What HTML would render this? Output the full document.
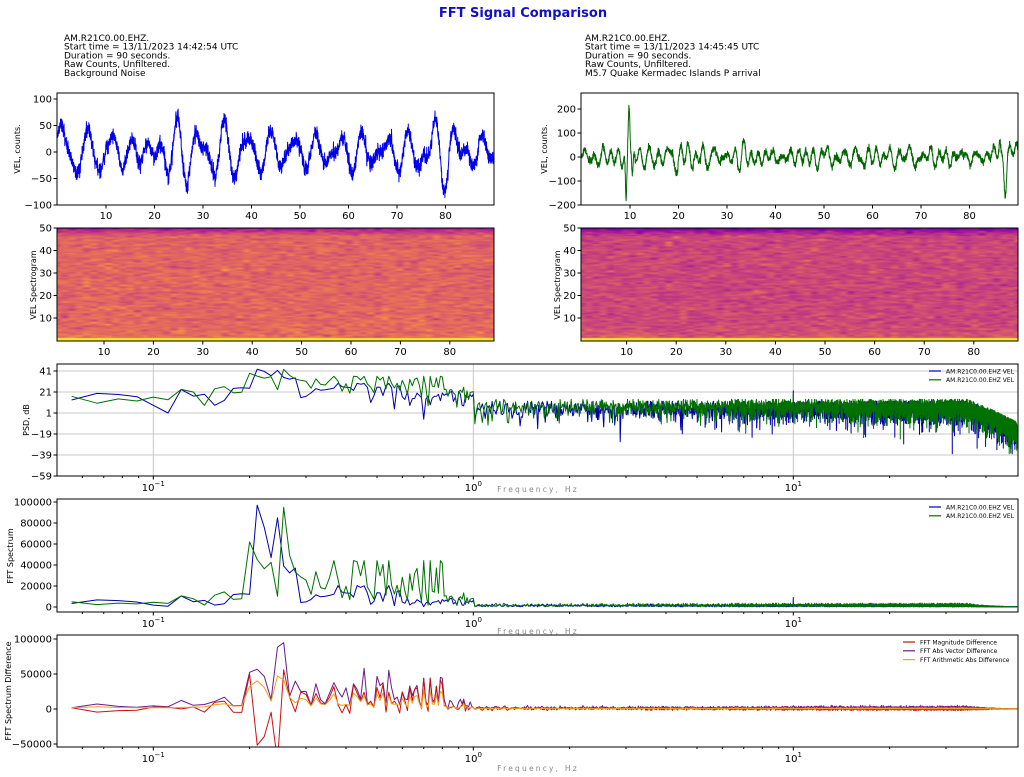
<!DOCTYPE html>
<html><head><meta charset="utf-8"><style>
html,body{margin:0;padding:0;background:#fff;}
#wrap{position:relative;width:1024px;height:777px;overflow:hidden;font-family:"DejaVu Sans","Liberation Sans",sans-serif;}
#s{position:absolute;left:0;top:0;}
canvas{position:absolute;}
</style></head><body><div id="wrap">
<canvas id="c1" width="437" height="113" style="left:57px;top:228px;width:437px;height:113px"></canvas>
<canvas id="c2" width="437" height="113" style="left:581px;top:228px;width:437px;height:113px"></canvas>
<svg id="s" xmlns="http://www.w3.org/2000/svg" width="1024" height="777" viewBox="0 0 1024 777"></svg>
</div>
<script>
var NS='http://www.w3.org/2000/svg';
var SEED=12345;function rnd(){SEED=(SEED*16807)%2147483647;return (SEED-1)/2147483646;}
function gauss(){var u=rnd();if(u<1e-9)u=1e-9;return Math.sqrt(-2*Math.log(u))*Math.cos(2*Math.PI*rnd());}
var SV=document.getElementById('s');
function el(tag,a,content,parent){var e=document.createElementNS(NS,tag);for(var k in a)e.setAttribute(k,String(a[k]));if(content!==null&&content!==undefined)e.textContent=String(content);(parent||SV).appendChild(e);return e;}
var clipN=0;
function mkclip(x,y,w,h){var id='cp'+(clipN++);var c=el('clipPath',{id:id});el('rect',{x:x,y:y,width:w,height:h},null,c);return id;}
function pth(pts,color,w,cid){var d='';for(var i=0;i<pts.length;i++){var p=pts[i];if(!isFinite(p[0])||!isFinite(p[1]))continue;d+=(d?'L':'M')+p[0].toFixed(1)+' '+p[1].toFixed(1);}var a={d:d,stroke:color,'stroke-width':w||1,fill:'none','stroke-linejoin':'round'};if(cid)a['clip-path']='url(#'+cid+')';el('path',a);}
function tx(x,y,s,o){o=o||{};var a={x:x,y:y,'font-size':o.fs||10,fill:o.fill||'#000','text-anchor':o.anchor||'middle'};if(o.rot)a.transform='rotate(-90 '+x+' '+y+')';if(o.weight)a['font-weight']=o.weight;if(o.ls)a['letter-spacing']=o.ls;return el('text',a,s);}
function box(x0,y0,x1,y1){el('rect',{x:x0,y:y0,width:x1-x0,height:y1-y0,fill:'none',stroke:'#000','stroke-width':1});}
function yticks(x0,list){for(var i=0;i<list.length;i++){var y=list[i][0];el('line',{x1:x0-3.5,y1:y,x2:x0,y2:y,stroke:'#000'});tx(x0-5,y+3.5,list[i][1],{anchor:'end'});}}
function xticks(y1,list){for(var i=0;i<list.length;i++){var x=list[i][0];el('line',{x1:x,y1:y1,x2:x,y2:y1+3.5,stroke:'#000'});tx(x,y1+14,list[i][1]);}}
var TK=[10,20,30,40,50,60,70,80];
function mapT(o,s){return TK.map(function(v){return [o+v*s,v];});}
try{
tx(523,17,'FFT Signal Comparison',{fs:13,weight:'bold',fill:'#1010c8'});
var info1=['AM.R21C0.00.EHZ.','Start time =  13/11/2023 14:42:54 UTC','Duration = 90 seconds.','Raw Counts, Unfiltered.','Background Noise'];
var info2=['AM.R21C0.00.EHZ.','Start time =  13/11/2023 14:45:45 UTC','Duration = 90 seconds.','Raw Counts, Unfiltered.','M5.7 Quake Kermadec Islands P arrival'];
for(var i=0;i<5;i++){tx(64,41+i*8.7,info1[i],{anchor:'start',fs:9});tx(585,41+i*8.7,info2[i],{anchor:'start',fs:9});}
}catch(e){}
function g2(t,c,w){return Math.exp(-Math.pow((t-c)/w,2));}
function wave(right){var pts=[],comps=[],n=right?14:9,k;
 for(k=0;k<n;k++)comps.push([right?0.15+rnd()*0.6:0.17+rnd()*0.16,(right?5+rnd()*8:6+rnd()*9),rnd()*6.283]);
 var hf=0;
 for(var j=0;j<=3600;j++){var t=j*0.025,v=0;for(k=0;k<n;k++)v+=comps[k][1]*Math.sin(6.283*comps[k][0]*t+comps[k][2]);
  if(!right){v*=1+1.5*g2(t,79,5)+0.4*g2(t,22,8);}
  hf=0.6*hf+gauss()*4;v+=hf+gauss()*(right?5:5);
  if(right){v+=230*g2(t,9.8,0.25)-190*g2(t,9.2,0.2)-110*g2(t,10.5,0.2)+90*g2(t,86.2,0.4)-150*g2(t,87.4,0.35)+90*g2(t,89.8,0.5);}
  pts.push([t,v]);}
 return pts;}
try{
var w1=wave(false);var cw1=mkclip(57,93,437,112);
pth(w1.map(function(p){return [57.5+p[0]*4.85,152-p[1]*0.53];}),'#0000ee',1,cw1);
box(57,93,494,205);yticks(57,[[99,'100'],[125.5,'50'],[152,'0'],[178.5,'−50'],[205,'−100']]);
xticks(205,mapT(57.5,4.85));
tx(20,149,'VEL, counts.',{rot:1,fs:8});
var w2=wave(true);var cw2=mkclip(581,93,437,112);
pth(w2.map(function(p){return [581.5+p[0]*4.85,157-p[1]*0.24];}),'#006400',1,cw2);
box(581,93,1018,205);yticks(581,[[109,'200'],[133,'100'],[157,'0'],[181,'−100'],[205,'−200']]);
xticks(205,mapT(581.5,4.85));
tx(547,149,'VEL, counts.',{rot:1,fs:8});
}catch(e){}
var ST=[[13,8,135],[84,2,163],[139,10,165],[185,50,137],[219,92,104],[244,136,73],[254,188,43],[240,249,33]];
function plasma(v){if(!isFinite(v))v=0.5;v=Math.max(0,Math.min(1,v))*7;var i=Math.min(6,Math.floor(v)),f=v-i;var a=ST[i],b=ST[i+1];return [a[0]+(b[0]-a[0])*f,a[1]+(b[1]-a[1])*f,a[2]+(b[2]-a[2])*f];}
function spec(id,right){var c=document.getElementById(id);var ctx=c.getContext('2d');var W=437,H=113;var img=ctx.createImageData(W,H);
 var cols=60,g=[],r,k;for(r=0;r<H;r++){g.push([]);for(k=0;k<=cols+1;k++)g[r].push(gauss());}
 for(var y=0;y<H;y++){var fr=(H-y)/H;for(var x=0;x<W;x++){var kk=x/W*cols,i=Math.floor(kk),f=kk-i;f=f*f*(3-2*f);var n=g[y][i]*(1-f)+g[y][i+1]*f;
  if(y>0){var n2=g[y-1][i]*(1-f)+g[y-1][i+1]*f;n=0.65*n+0.35*n2;}
  var base=right?0.5:0.6;if(fr>0.93)base-=(fr-0.93)*3.5;
  if(right){base+=0.12*Math.exp(-fr*18);var t=x/W*90;base+=0.2*g2(t,10,3)*Math.exp(-fr*25);}
  else base+=0.05*Math.exp(-fr*10);
  var v=base+n*0.06;if(y>=H-3)v=0.97;var col=plasma(v);var p=(y*W+x)*4;img.data[p]=col[0];img.data[p+1]=col[1];img.data[p+2]=col[2];img.data[p+3]=255;}}
 ctx.putImageData(img,0,0);}
try{spec('c1',false);}catch(e){}
try{spec('c2',true);}catch(e){}
try{
box(57,228,494,341);box(581,228,1018,341);
yticks(57,[[228,'50'],[250.5,'40'],[273,'30'],[295.5,'20'],[318,'10']]);
yticks(581,[[228,'50'],[250.5,'40'],[273,'30'],[295.5,'20'],[318,'10']]);
xticks(341,mapT(54.6,4.94));xticks(341,mapT(577,4.96));
tx(36,285,'VEL Spectrogram',{rot:1,fs:8});tx(560,285,'VEL Spectrogram',{rot:1,fs:8});
}catch(e){}
function fx(f){return 57+(Math.log(f)/Math.LN10+1.301)*320;}
var freqs=[];for(var k=5;k*0.011111<=50.01;k++)freqs.push(k*0.011111);
function envB(f){if(f<0.12)return 4000;if(f<0.2)return 15000;if(f<0.28)return 50000;if(f<0.6)return 12000;if(f<1)return 5000;return 1300*(f>35?Math.exp(-(f-35)/6):1);}
function envG(f){if(f<0.12)return 4000;if(f<0.2)return 10000;if(f<0.28)return 35000;if(f<0.8)return 26000;if(f<1)return 9000;return 1600*(f>35?Math.exp(-(f-35)/6):1);}
function ray(f){var a=gauss(),b=gauss();var r=Math.sqrt(a*a+b*b)/1.25;return f<1?Math.min(1.7,r):Math.min(2.2,r);}
var B=[],G=[];
for(var i=0;i<freqs.length;i++){var f=freqs[i];B.push(envB(f)*ray(f));G.push(envG(f)*ray(f));
 if(Math.abs(f-0.211)<0.006)B[i]=97000;if(Math.abs(f-0.255)<0.006)G[i]=95000;if(Math.abs(f-0.2)<0.006)G[i]=62000;if(Math.abs(f-10)<0.006){B[i]=9000;G[i]=7000;}}
function logx(y1){var labs=['−1','0','1'],fs=[0.1,1,10];for(var i=0;i<3;i++){var x=fx(fs[i]);el('line',{x1:x,y1:y1,x2:x,y2:y1+3.5,stroke:'#000'});var t=tx(x,y1+15,'10');el('tspan',{dy:-5,'font-size':7},labs[i],t);}
 for(var d=-2;d<=1;d++)for(var m=2;m<=9;m++){var f=m*Math.pow(10,d);if(f>0.05&&f<50)el('line',{x1:fx(f),y1:y1,x2:fx(f),y2:y1+2,stroke:'#000'});}}
function legend(x,y,items){for(var i=0;i<items.length;i++){el('line',{x1:x,y1:y+i*8.8,x2:x+12,y2:y+i*8.8,stroke:items[i][0],'stroke-width':1.2});tx(x+17,y+i*8.8+2.3,items[i][1],{anchor:'start',fs:6});}}
function series(arr,fy){return freqs.map(function(f,i){return [fx(f),fy(arr[i])];});}
try{
var cp=mkclip(57,364,961,112);
function psdY(v){return 413-(v-1)*1.05;}
[371,392,413,434,455].forEach(function(y){el('line',{x1:57,y1:y,x2:1018,y2:y,stroke:'#c8c8c8','stroke-width':1});});
[0.1,1,10].forEach(function(f){el('line',{x1:fx(f),y1:364,x2:fx(f),y2:476,stroke:'#c8c8c8','stroke-width':1});});
function toDb(a){return 20*Math.log(Math.max(a,5))/Math.LN10-57;}
pth(series(B,function(a){return psdY(toDb(a));}),'#0000aa',1,cp);
pth(series(G,function(a){return psdY(toDb(a));}),'#007000',1,cp);
box(57,364,1018,476);
yticks(57,[[371,'41'],[392,'21'],[413,'1'],[434,'−19'],[455,'−39'],[476,'−59']]);
logx(476);tx(538,492,'Frequency, Hz',{fs:7.5,fill:'#888',ls:2.2});
tx(29,420,'PSD, dB',{rot:1,fs:8});
legend(929,371,[['#0000aa','AM.R21C0.00.EHZ VEL'],['#007000','AM.R21C0.00.EHZ VEL']]);
}catch(e){}
try{
var cf=mkclip(57,499,961,113);function fy(v){return 607-v*0.00105;}
pth(series(B,fy),'#0000aa',1,cf);
pth(series(G,fy),'#007000',1,cf);
box(57,499,1018,612);
yticks(57,[[502,'100000'],[523,'80000'],[544,'60000'],[565,'40000'],[586,'20000'],[607,'0']]);
logx(612);tx(538,634,'Frequency, Hz',{fs:7.5,fill:'#888',ls:2.2});
tx(13,556,'FFT Spectrum',{rot:1,fs:8});
legend(929,507,[['#0000aa','AM.R21C0.00.EHZ VEL'],['#007000','AM.R21C0.00.EHZ VEL']]);
}catch(e){}
try{
var cd=mkclip(57,635,961,112);function dy(v){return 709-v*0.0007;}
var P=[],R=[],O=[];
for(var i=0;i<freqs.length;i++){var d=G[i]-B[i];R.push(d);var ph=rnd();P.push(Math.sqrt(Math.max(0,B[i]*B[i]+G[i]*G[i]-2*B[i]*G[i]*Math.cos(ph*2.5))));O.push(Math.abs(d)*0.6+Math.min(B[i],G[i])*0.2);}
pth(series(P,dy),'#6a1a8a',1,cd);
pth(series(R,dy),'#cc1010',1,cd);
pth(series(O,dy),'#f0a020',1,cd);
box(57,635,1018,747);
yticks(57,[[639,'100000'],[674,'50000'],[709,'0'],[744,'−50000']]);
logx(747);tx(538,771,'Frequency, Hz',{fs:7.5,fill:'#888',ls:2.2});
tx(11,691,'FFT Spectrum Difference',{rot:1,fs:8});
legend(903,642,[['#cc1010','FFT Magnitude Difference'],['#6a1a8a','FFT Abs Vector Difference'],['#f0a020','FFT Arithmetic Abs Difference']]);
}catch(e){}
</script></body></html>
